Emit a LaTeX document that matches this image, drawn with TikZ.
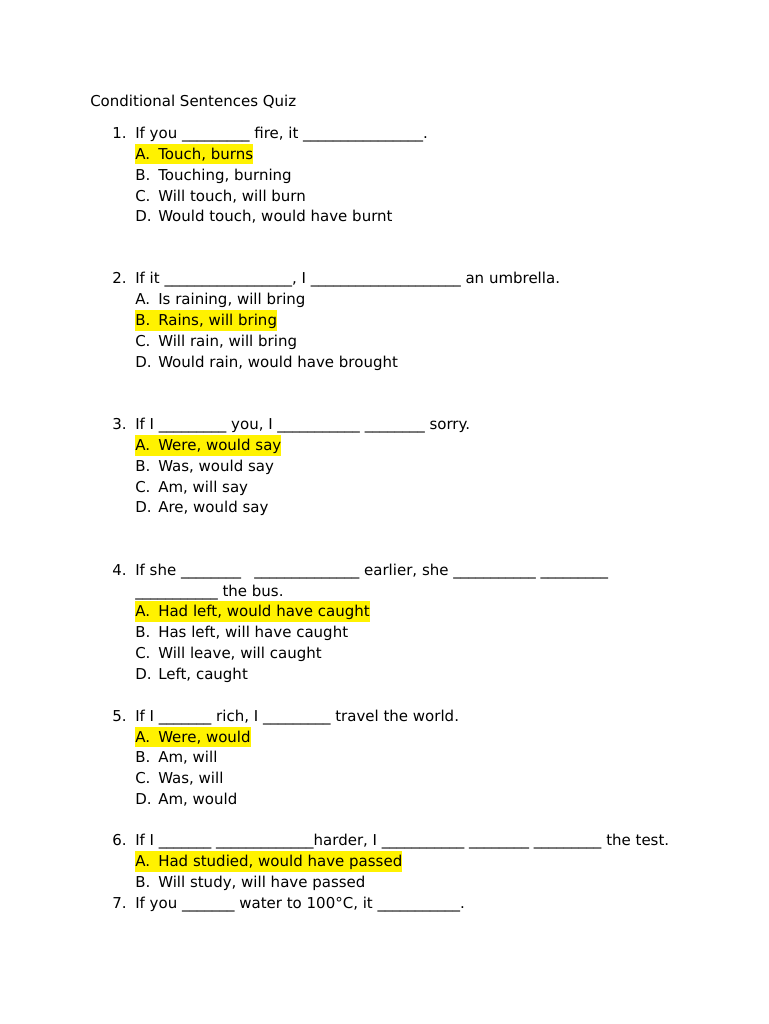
\documentclass[tikz,border=0pt]{standalone}
\usepackage{fontspec}
\setmainfont{DejaVu Sans}
\begin{document}
\begin{tikzpicture}[x=0.75pt,y=-0.75pt,
  t/.style={anchor=base west,inner sep=0pt,font=\fontsize{11.25pt}{13pt}\selectfont},
  hl/.style={t,fill=yellow,inner ysep=2.4pt}]
\useasboundingbox (0,0) rectangle (768,1024);
\newcommand\Q[3]{\node[t,anchor=base east] (q#1) at (127,#2) {#1.}; \node[t] (qt#1) at (135,#2) {#3};}
\newcommand\Op[4]{\node[t] (o#1) at (135,#2) {\makebox[17.25pt][l]{#3}#4};}
\newcommand\Oh[4]{\node[hl] (o#1) at (135,#2) {\makebox[17.25pt][l]{#3}#4};}
\node[t] (title) at (90,106) {Conditional Sentences Quiz};
\Q{1}{138}{If you \_\_\_\_\_\_\_\_\_ fire, it \_\_\_\_\_\_\_\_\_\_\_\_\_\_\_\_.}
\Oh{1a}{159}{A.}{Touch, burns}
\Op{1b}{180}{B.}{Touching, burning}
\Op{1c}{201}{C.}{Will touch, will burn}
\Op{1d}{221}{D.}{Would touch, would have burnt}
\Q{2}{283}{If it \_\_\_\_\_\_\_\_\_\_\_\_\_\_\_\_\_, I \_\_\_\_\_\_\_\_\_\_\_\_\_\_\_\_\_\_\_\_ an umbrella.}
\Op{2a}{304}{A.}{Is raining, will bring}
\Oh{2b}{325}{B.}{Rains, will bring}
\Op{2c}{346}{C.}{Will rain, will bring}
\Op{2d}{367}{D.}{Would rain, would have brought}
\Q{3}{429}{If I \_\_\_\_\_\_\_\_\_ you, I \_\_\_\_\_\_\_\_\_\_\_ \_\_\_\_\_\_\_\_ sorry.}
\Oh{3a}{450}{A.}{Were, would say}
\Op{3b}{471}{B.}{Was, would say}
\Op{3c}{492}{C.}{Am, will say}
\Op{3d}{512}{D.}{Are, would say}
\Q{4}{575}{If she \_\_\_\_\_\_\_\_\hspace{10pt}\_\_\_\_\_\_\_\_\_\_\_\_\_\_ earlier, she \_\_\_\_\_\_\_\_\_\_\_ \_\_\_\_\_\_\_\_\_}
\node[t] (q4b) at (135,596) {\_\_\_\_\_\_\_\_\_\_\_ the bus.};
\Oh{4a}{616}{A.}{Had left, would have caught}
\Op{4b}{637}{B.}{Has left, will have caught}
\Op{4c}{658}{C.}{Will leave, will caught}
\Op{4d}{679}{D.}{Left, caught}
\Q{5}{721}{If I \_\_\_\_\_\_\_ rich, I \_\_\_\_\_\_\_\_\_ travel the world.}
\Oh{5a}{742}{A.}{Were, would}
\Op{5b}{762}{B.}{Am, will}
\Op{5c}{783}{C.}{Was, will}
\Op{5d}{804}{D.}{Am, would}
\Q{6}{845}{If I \_\_\_\_\_\_\_ \_\_\_\_\_\_\_\_\_\_\_\_\_harder, I \_\_\_\_\_\_\_\_\_\_\_ \_\_\_\_\_\_\_\_ \_\_\_\_\_\_\_\_\_ the test.}
\Oh{6a}{866}{A.}{Had studied, would have passed}
\Op{6b}{887}{B.}{Will study, will have passed}
\Q{7}{908}{If you \_\_\_\_\_\_\_ water to 100°C, it \_\_\_\_\_\_\_\_\_\_\_.}
\end{tikzpicture}
\end{document}
